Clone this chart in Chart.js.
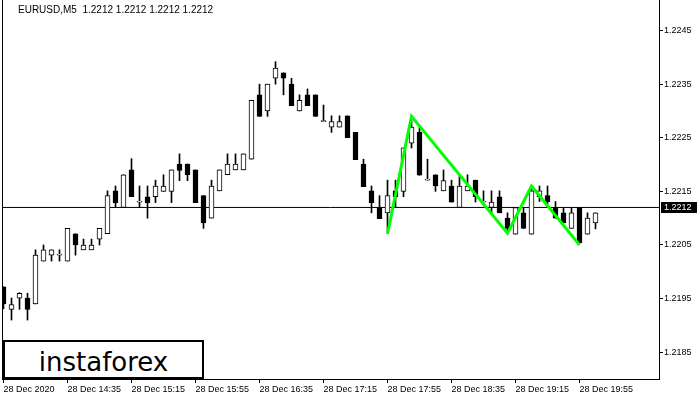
<!DOCTYPE html>
<html>
<head>
<meta charset="utf-8">
<script src="https://cdn.jsdelivr.net/npm/chart.js@4.4.1/dist/chart.umd.min.js"></script>
<style>
  body { margin: 0; background: #fff; }
  #wrap { position: relative; width: 700px; height: 400px; }
  #title { position: absolute; left: 18px; top: 4px; font: 10px 'Liberation Sans', Arial, sans-serif; color: #000; white-space: pre; }
  #logo { position: absolute; left: 3px; top: 340px; width: 197px; height: 35px; border: 2px solid #000; background: #fff; overflow: hidden; }
  #logo span { display: block; text-align: center; font: 26px 'DejaVu Sans', sans-serif; line-height: 35px; position: relative; top: 3px; color: #000; }
</style>
</head>
<body>
<div id="wrap">
  <canvas id="chart" width="700" height="400"></canvas>
  <div id="title">EURUSD,M5  1.2212 1.2212 1.2212 1.2212</div>
  <div id="logo"><span>instaforex</span></div>
</div>
<script>
// M5 candles, 28 Dec 2020 13:55 .. 20:05
const opens = [1.21972, 1.21930, 1.21951, 1.21951, 1.21940, 1.22020, 1.22031, 1.22031, 1.22020, 1.22071,
  1.22041, 1.22041, 1.22061, 1.22071, 1.22151, 1.22120, 1.22190, 1.22130, 1.22140, 1.22140,
  1.22150, 1.22150, 1.22201, 1.22201, 1.22190, 1.22142, 1.22100, 1.22151, 1.22181, 1.22190,
  1.22190, 1.22210, 1.22330, 1.22300, 1.22361, 1.22371, 1.22350, 1.22300, 1.22330, 1.22330,
  1.22280, 1.22270, 1.22270, 1.22291, 1.22260, 1.22201, 1.22151, 1.22120, 1.22110, 1.22151,
  1.22150, 1.22240, 1.22260, 1.22171, 1.22181, 1.22151, 1.22160, 1.22120, 1.22151, 1.22171,
  1.22130, 1.22120, 1.22140, 1.22100, 1.22070, 1.22110, 1.22070, 1.22140, 1.22142, 1.22120,
  1.22110, 1.22081, 1.22120, 1.22070, 1.22091];
const highs = [1.21972, 1.21951, 1.21961, 1.21960, 1.22041, 1.22050, 1.22041, 1.22041, 1.22081, 1.22071,
  1.22061, 1.22061, 1.22081, 1.22151, 1.22160, 1.22181, 1.22211, 1.22160, 1.22160, 1.22171,
  1.22181, 1.22190, 1.22220, 1.22201, 1.22190, 1.22142, 1.22171, 1.22190, 1.22220, 1.22220,
  1.22220, 1.22320, 1.22350, 1.22350, 1.22392, 1.22371, 1.22361, 1.22330, 1.22341, 1.22330,
  1.22311, 1.22291, 1.22291, 1.22291, 1.22260, 1.22210, 1.22160, 1.22142, 1.22171, 1.22171,
  1.22231, 1.22291, 1.22270, 1.22210, 1.22181, 1.22190, 1.22171, 1.22181, 1.22181, 1.22171,
  1.22151, 1.22151, 1.22151, 1.22110, 1.22120, 1.22120, 1.22160, 1.22160, 1.22160, 1.22131,
  1.22120, 1.22120, 1.22120, 1.22110, 1.22110];
const lows = [1.21931, 1.21910, 1.21930, 1.21910, 1.21940, 1.22020, 1.22020, 1.22020, 1.22020, 1.22031,
  1.22041, 1.22041, 1.22050, 1.22071, 1.22120, 1.22120, 1.22140, 1.22120, 1.22100, 1.22129,
  1.22150, 1.22129, 1.22170, 1.22170, 1.22129, 1.22081, 1.22100, 1.22151, 1.22181, 1.22190,
  1.22190, 1.22210, 1.22290, 1.22290, 1.22350, 1.22330, 1.22310, 1.22300, 1.22310, 1.22290,
  1.22280, 1.22260, 1.22270, 1.22250, 1.22209, 1.22159, 1.22110, 1.22099, 1.22072, 1.22120,
  1.22140, 1.22231, 1.22180, 1.22171, 1.22150, 1.22151, 1.22130, 1.22120, 1.22151, 1.22130,
  1.22130, 1.22110, 1.22110, 1.22072, 1.22070, 1.22081, 1.22070, 1.22131, 1.22120, 1.22100,
  1.22091, 1.22081, 1.22054, 1.22070, 1.22080];
const closes = [1.21940, 1.21939, 1.21960, 1.21930, 1.22031, 1.22041, 1.22041, 1.22031, 1.22081, 1.22050,
  1.22050, 1.22050, 1.22081, 1.22142, 1.22129, 1.22181, 1.22140, 1.22130, 1.22129, 1.22160,
  1.22160, 1.22190, 1.22189, 1.22181, 1.22129, 1.22091, 1.22160, 1.22190, 1.22201, 1.22201,
  1.22220, 1.22320, 1.22290, 1.22350, 1.22380, 1.22361, 1.22310, 1.22320, 1.22310, 1.22290,
  1.22280, 1.22280, 1.22280, 1.22250, 1.22209, 1.22159, 1.22129, 1.22099, 1.22142, 1.22140,
  1.22231, 1.22270, 1.22180, 1.22171, 1.22160, 1.22170, 1.22130, 1.22160, 1.22160, 1.22140,
  1.22130, 1.22130, 1.22110, 1.22081, 1.22120, 1.22081, 1.22151, 1.22151, 1.22131, 1.22100,
  1.22091, 1.22110, 1.22054, 1.22100, 1.22110];

const timeTickIdx = [0, 8, 16, 24, 32, 40, 48, 56, 64, 72];
const timeTickLabels = ['28 Dec 2020', '28 Dec 14:35', '28 Dec 15:15', '28 Dec 15:55', '28 Dec 16:35',
  '28 Dec 17:15', '28 Dec 17:55', '28 Dec 18:35', '28 Dec 19:15', '28 Dec 19:55'];
const priceTicks = [1.2185, 1.2195, 1.2205, 1.2215, 1.2225, 1.2235, 1.2245];

// triple bottom pattern drawn on the chart
const patternIdx = [48, 51, 63, 66, 72];
const patternPrice = [1.22071, 1.22290, 1.22072, 1.22160, 1.22050];

const lastPrice = 1.2212;
const xMin = -0.1875, xMax = 81.9375;
const yMin = 1.21800, yMax = 1.22507;

const FONT = "'Liberation Sans', Arial, sans-serif";

const bodyData = opens.map((o, i) => ({ x: i, y: [o, closes[i]] }));
const wickData = highs.map((h, i) => ({ x: i, y: [lows[i], h] }));
const bodyColors = opens.map((o, i) => closes[i] >= o ? '#ffffff' : '#000000');
const patternData = patternIdx.map((x, i) => ({ x: x, y: patternPrice[i] }));

const priceTag = {
  id: 'priceTag',
  afterDraw(chart) {
    const ctx = chart.ctx;
    const y = Math.round(chart.scales.y.getPixelForValue(lastPrice));
    ctx.save();
    ctx.fillStyle = '#000';
    ctx.fillRect(661, y - 5, 36, 11);
    ctx.fillStyle = '#fff';
    ctx.font = '9px ' + FONT;
    ctx.textBaseline = 'middle';
    ctx.fillText(lastPrice.toFixed(4), 664, y + 0.5);
    ctx.restore();
  }
};

// keep vertical axes from reserving space for half label heights
function noVPad(s) { s.paddingTop = 0; s.paddingBottom = 0; }

new Chart(document.getElementById('chart'), {
  type: 'bar',
  data: {
    datasets: [
      {
        type: 'line',
        data: patternData,
        borderColor: '#00ff00',
        borderWidth: 3,
        pointRadius: 0,
        order: 0
      },
      {
        data: bodyData,
        backgroundColor: bodyColors,
        borderColor: '#000',
        borderWidth: 1,
        borderSkipped: false,
        barThickness: 5,
        minBarLength: 1,
        grouped: false,
        order: 1
      },
      {
        data: wickData,
        backgroundColor: '#000',
        barThickness: 1,
        grouped: false,
        order: 2
      },
      {
        type: 'line',
        data: [{ x: xMin, y: lastPrice }, { x: xMax, y: lastPrice }],
        borderColor: '#000',
        borderWidth: 1,
        pointRadius: 0,
        order: 3
      }
    ]
  },
  options: {
    responsive: false,
    devicePixelRatio: 1,
    animation: false,
    layout: { padding: 0 },
    plugins: { legend: { display: false }, tooltip: { enabled: false } },
    scales: {
      x: {
        type: 'linear',
        min: xMin,
        max: xMax,
        offset: false,
        grid: { drawOnChartArea: false, drawTicks: true, tickLength: 4, color: '#000', offset: false },
        border: { display: true, color: '#000' },
        ticks: {
          autoSkip: false,
          maxRotation: 0,
          align: 'start',
          padding: 1,
          color: '#000',
          font: { family: FONT, size: 9 },
          callback: (v) => timeTickLabels[timeTickIdx.indexOf(v)]
        },
        afterBuildTicks: (s) => { s.ticks = timeTickIdx.map(v => ({ value: v })); },
        afterFit: (s) => { s.height = 21; s.paddingLeft = 0; s.paddingRight = 0; }
      },
      y: {
        type: 'linear',
        position: 'right',
        min: yMin,
        max: yMax,
        grid: { drawOnChartArea: false, drawTicks: true, tickLength: 4, color: '#000' },
        border: { display: true, color: '#000' },
        ticks: {
          padding: 1,
          color: '#000',
          font: { family: FONT, size: 9 },
          callback: (v) => v.toFixed(4)
        },
        afterBuildTicks: (s) => { s.ticks = priceTicks.map(v => ({ value: v })); },
        afterFit: (s) => { s.width = 41; noVPad(s); }
      },
      yLeft: {
        type: 'linear',
        position: 'left',
        min: yMin,
        max: yMax,
        grid: { display: false },
        border: { display: true, color: '#000' },
        ticks: { display: false },
        afterFit: (s) => { s.width = 2; noVPad(s); }
      }
    }
  },
  plugins: [priceTag]
});
</script>
</body>
</html>
